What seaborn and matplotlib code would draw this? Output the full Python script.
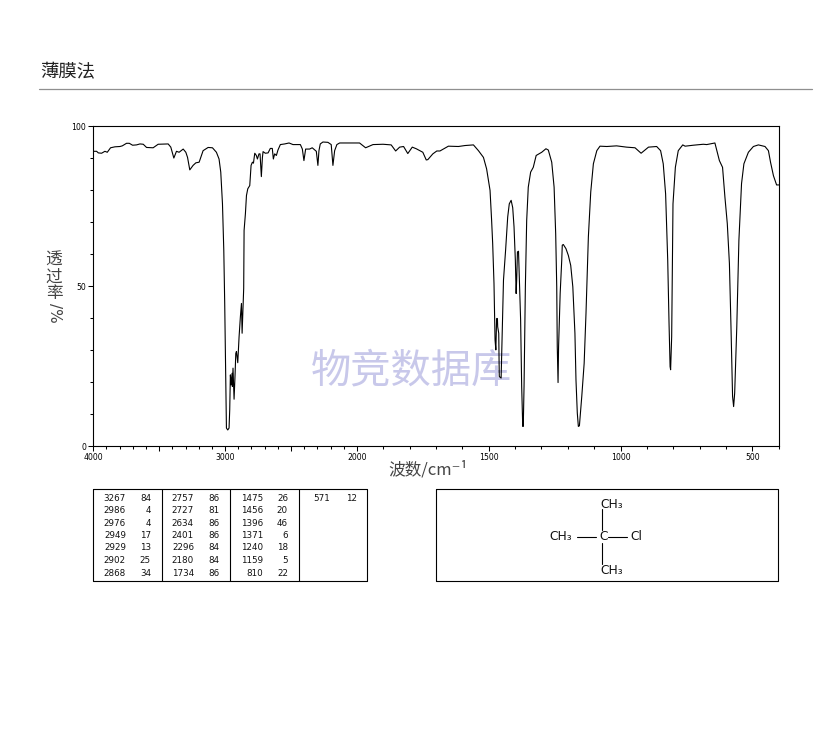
import numpy as np
import matplotlib
matplotlib.use("Agg")
import matplotlib.pyplot as plt
import seaborn as sns

# ---- data ----
wavenumber = [
 4000,3975,3962,3937,3912,3894,3869,3836,3798,3780,3748,3727,3702,3672,3646,3621,3596,3546,3508,3432,
 3412,3389,3369,3349,3318,3298,3285,3268,3243,3222,3197,3167,3129,3096,3066,3046,3033,3020,3010,3003,
 2995,2990,2980,2970,2965,2960,2955,2947,2945,2940,2932,2924,2919,2914,2904,2894,2884,2876,2871,2864,
 2859,2856,2846,2838,2828,2813,2803,2793,2785,2775,2763,2755,2743,2735,2725,2717,2712,2695,2674,2657,
 2642,2634,2624,2611,2599,2581,2548,2515,2485,2429,2414,2402,2389,2359,2339,2308,2296,2288,2278,2258,
 2220,2195,2182,2169,2152,2131,1990,1967,1939,1901,1870,1853,1838,1823,1807,1790,1775,1750,1737,1731,
 1712,1697,1685,1653,1615,1590,1558,1539,1520,1508,1495,1489,1485,1480,1476,1473,1470,1467,1466,1462,
 1460,1453,1449,1444,1436,1428,1422,1415,1409,1404,1399,1396,1394,1391,1387,1384,1379,1375,1371,1369,
 1366,1361,1356,1350,1341,1331,1320,1299,1283,1274,1261,1252,1246,1242,1240,1237,1235,1229,1223,1221,
 1217,1207,1198,1189,1181,1173,1169,1164,1160,1156,1147,1138,1131,1122,1113,1103,1090,1078,1052,1015,
 977,945,922,894,863,848,838,829,821,816,812,810,806,801,792,781,764,755,724,686,
 673,642,625,613,604,595,587,581,575,571,567,559,551,541,532,515,496,477,452,439,
 431,420,408,400]
transmittance = [
 92.1,92.1,91.6,91.5,92.1,91.8,93.2,93.5,93.6,93.8,94.6,94.6,94.0,94.1,94.4,94.3,93.3,93.2,94.3,94.4,
 93.4,90.0,92.1,91.8,92.8,91.8,90.2,86.3,87.7,88.5,88.7,92.3,93.3,93.2,91.8,89.7,85.6,75.7,61.2,44.6,
 19.7,5.7,5.1,5.7,11.4,22.3,19.2,22.8,18.7,24.4,14.7,22.8,29.0,29.6,26.1,34.2,40.5,44.6,35.3,43.0,
 49.3,67.4,72.6,78.3,80.4,81.4,87.7,88.7,88.4,91.5,90.8,89.7,91.3,91.3,84.2,90.2,92.0,91.5,91.6,93.0,
 93.0,89.7,91.3,90.8,92.5,94.2,94.4,94.7,94.2,94.2,92.8,89.2,92.8,92.8,93.2,92.1,87.7,92.3,94.4,95.0,
 94.9,94.2,87.7,92.3,94.2,94.7,94.7,93.2,94.2,94.3,94.1,92.2,93.4,93.6,91.4,93.4,92.9,91.8,89.4,89.5,
 91.3,92.2,92.2,93.7,93.6,93.9,94.1,92.3,90.2,86.6,79.9,70.5,63.3,50.8,33.2,30.1,39.9,39.9,37.3,35.3,
 21.8,21.3,35.3,51.9,61.2,71.6,75.7,76.8,74.5,68.5,58.1,47.7,51.9,60.7,60.9,52.9,39.4,18.7,6.2,6.2,
 18.7,49.8,70.5,80.9,85.6,87.1,90.8,91.8,92.9,92.5,88.7,80.9,66.4,49.8,31.1,19.9,31.1,47.7,58.1,62.8,
 63.0,61.7,59.6,56.5,49.8,35.3,20.7,10.4,6.2,6.4,15.6,25.9,41.5,65.4,79.4,88.2,92.3,93.7,93.6,93.8,
 93.4,93.2,91.5,93.4,93.6,92.3,88.2,78.8,58.1,38.4,24.9,23.9,34.2,75.7,87.1,92.3,94.1,93.7,94.0,94.3,
 94.2,94.7,89.2,87.1,77.8,69.5,57.1,37.3,15.6,12.4,16.6,37.3,64.3,82.0,88.2,91.8,93.6,94.1,93.6,92.3,
 88.7,84.5,81.6,81.6]

x_labelled = [4000, 3000, 2000, 1500, 1000, 500]
x_major = [4000, 3500, 3000, 2500, 2000, 1500, 1000, 500]
x_minor = list(range(400, 4000, 100))
y_major = [0, 50, 100]
y_minor = list(range(0, 101, 10))

peak_wn = [["3267","2986","2976","2949","2929","2902","2868"],
           ["2757","2727","2634","2401","2296","2180","1734"],
           ["1475","1456","1396","1371","1240","1159","810"],
           ["571"]]
peak_t = [["84","4","4","17","13","25","34"],
          ["86","81","86","86","84","84","86"],
          ["26","20","46","6","18","5","22"],
          ["12"]]

title = "薄膜法"
watermark = "物竞数据库"
xlabel = "波数/cm⁻¹"

# ---- style ----
sns.set_theme(style="white")
plt.rcParams["font.family"] = ["Noto Sans CJK SC", "DejaVu Sans"]
W, H = 822, 737
fig = plt.figure(figsize=(W / 100, H / 100), dpi=100, facecolor="white")

# page layer in pixel coordinates
page = fig.add_axes([0, 0, 1, 1], zorder=0)
page.set_xlim(0, W); page.set_ylim(H, 0); page.axis("off")

# spectrum axes
L, R, T, B = 93.3, 778.7, 126, 446.3
ax = fig.add_axes([L / W, 1 - B / H, (R - L) / W, (B - T) / H], zorder=1)
ax.patch.set_alpha(0)


def fwd(x):
    x = np.asarray(x, dtype=float)
    return np.where(x > 2000, 2000 + (x - 2000) / 2, x)


def inv(p):
    p = np.asarray(p, dtype=float)
    return np.where(p > 2000, 2000 + (p - 2000) * 2, p)


ax.set_xscale("function", functions=(fwd, inv))
sns.lineplot(x=wavenumber, y=transmittance, sort=False, estimator=None, errorbar=None,
             color="black", linewidth=0.8, ax=ax, zorder=3)
ax.set_xlim(4000, 400)
ax.set_ylim(0, 100)
ax.set_xticks(x_major)
ax.set_xticklabels([str(v) if v in x_labelled else "" for v in x_major],
                   fontsize=5.6, family="DejaVu Sans", color="black")
ax.set_xticks(x_minor, minor=True)
ax.set_yticks(y_major)
ax.set_yticklabels([str(v) for v in y_major], fontsize=5.6, family="DejaVu Sans", color="black")
ax.set_yticks(y_minor, minor=True)
ax.tick_params(axis="both", which="major", direction="out", length=3.6, width=0.75, color="black", pad=1.5,
               bottom=True, left=True)
ax.tick_params(axis="both", which="minor", direction="out", length=2.0, width=0.75, color="black",
               bottom=True, left=True)
for s in ax.spines.values():
    s.set_color("black"); s.set_linewidth(0.8)

# watermark, title, rule
page.text(411.5, 371, watermark, fontsize=29, color="#c8c8ea", ha="center", va="center")
page.text(40.5, 72, title, fontsize=13.2, color="#222222", ha="left", va="center")
page.plot([39, 812], [88.5, 88.5], color="#8f8f8f", lw=0.9)

# axis titles
page.text(428, 469.5, xlabel, fontsize=12, color="#444444", ha="center", va="center")
page.text(54, 277, "透\n过\n率", fontsize=12, color="#444444", ha="center", va="center",
          linespacing=0.95)
page.text(54, 313, "/%", fontsize=11, color="#444444", ha="center", va="center", rotation=-90,
          family="DejaVu Sans")

# peak table
box_kw = dict(color="black", lw=0.8)
for x0, x1 in [(93.3, 367.3), (436.3, 778.3)]:
    page.plot([x0, x1, x1, x0, x0], [489.3, 489.3, 581, 581, 489.3], **box_kw)
for x in (162.3, 230.3, 299.3):
    page.plot([x, x], [489.3, 581], **box_kw)
wn_right = [126, 194, 263, 330]
t_right = [151, 219, 288, 357]
tf = dict(fontsize=6.3, family="DejaVu Sans", color="#111111", va="center", ha="right")
for c, (ws, ts) in enumerate(zip(peak_wn, peak_t)):
    for r, (w_, t_) in enumerate(zip(ws, ts)):
        y = 498 + r * 12.5
        page.text(wn_right[c], y, w_, **tf)
        page.text(t_right[c], y, t_, **tf)

# structure
sf = dict(fontsize=8.8, family="DejaVu Sans", color="#111111", va="center", ha="left")
page.text(600, 504.5, "CH₃", **sf)
page.text(600, 571, "CH₃", **sf)
page.text(549.5, 537, "CH₃", **sf)
page.text(599.5, 537, "C", **sf)
page.text(630, 537, "Cl", **sf)
page.plot([602, 602], [509, 530], **box_kw)
page.plot([602, 602], [543, 564], **box_kw)
page.plot([577, 596], [537, 537], **box_kw)
page.plot([608, 627], [537, 537], **box_kw)

fig.savefig("out.png", dpi=100, facecolor="white")
